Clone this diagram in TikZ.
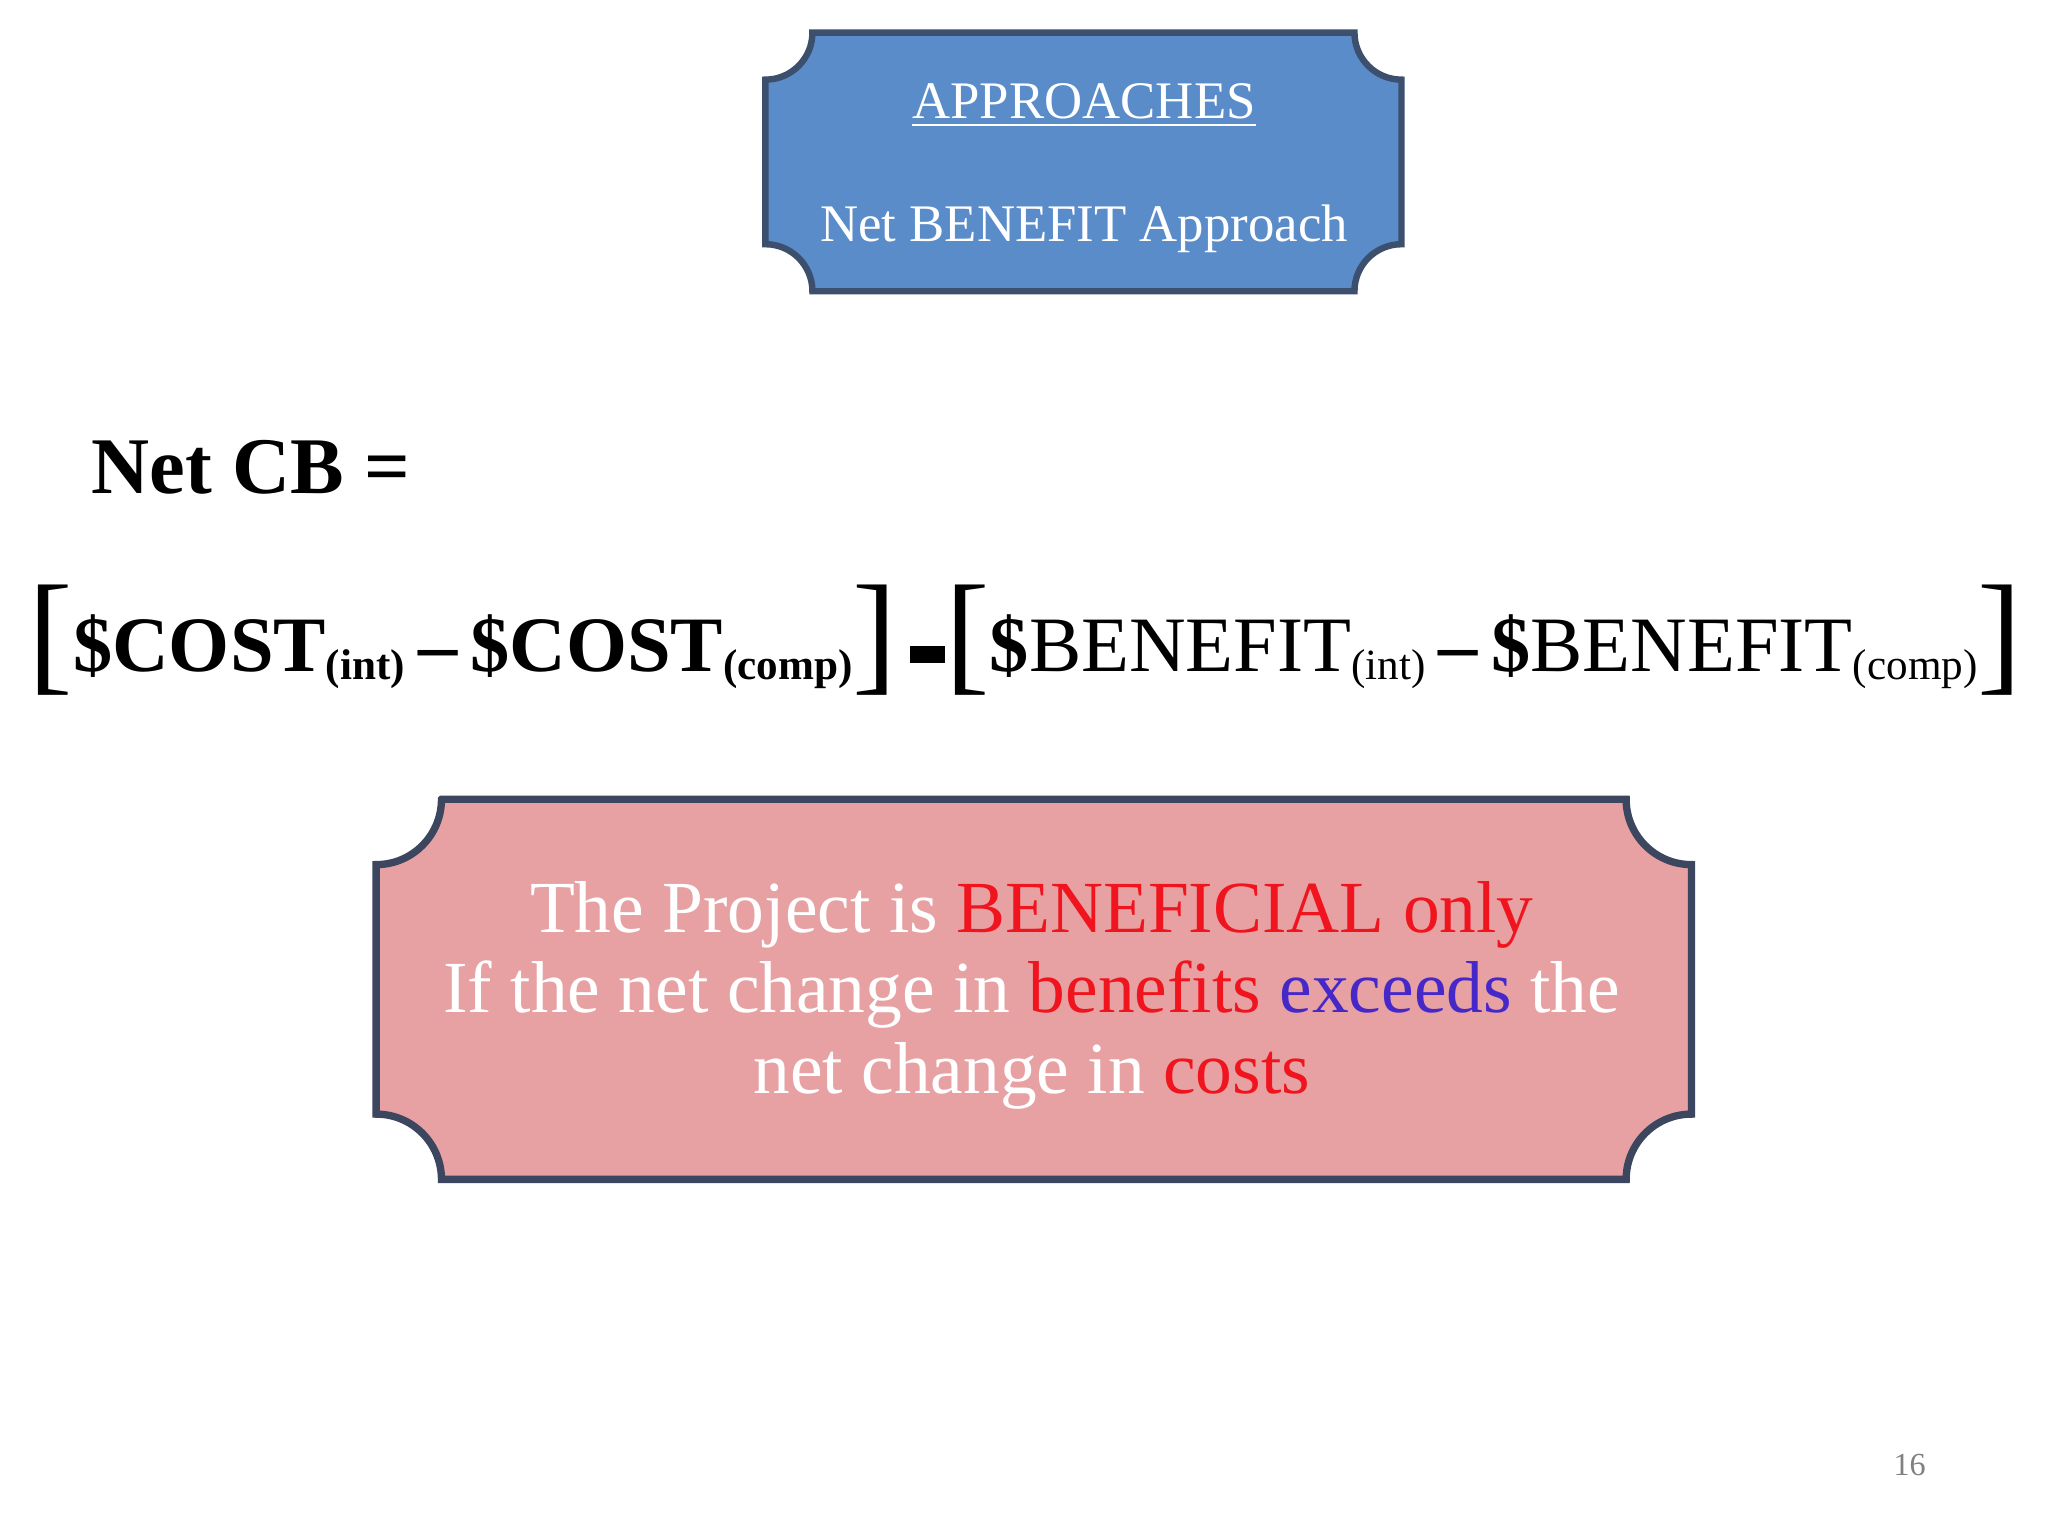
\documentclass[tikz,border=0pt]{standalone}
\usepackage{fontspec}
\setmainfont{Liberation Serif}
\usepackage{graphicx}
\definecolor{boxblue}{RGB}{90,140,202}
\definecolor{boxblueline}{RGB}{60,80,110}
\definecolor{boxpink}{RGB}{231,161,163}
\definecolor{boxpinkline}{RGB}{60,70,95}
\definecolor{txtred}{RGB}{240,20,30}
\definecolor{txtblue}{RGB}{70,40,200}
\newcommand{\scoopbox}[6]{% x1 y1top x2 y2bot r style
  \draw[#6] (#1+#5,#2) -- (#3-#5,#2) arc[start angle=180,end angle=270,radius=#5]
    -- (#3,#4+#5) arc[start angle=90,end angle=180,radius=#5]
    -- (#1+#5,#4) arc[start angle=0,end angle=90,radius=#5]
    -- (#1,#2-#5) arc[start angle=270,end angle=360,radius=#5] -- cycle;}
\newcommand{\subsc}[1]{\raisebox{-0.2ex}{\fontsize{11pt}{11pt}\selectfont #1}}
\begin{document}
\begin{tikzpicture}[x=1cm,y=1cm]
\useasboundingbox[fill=white] (0,0) rectangle (15.68,11.76);
\tikzset{bluebox/.style={fill=boxblue,draw=boxblueline,line width=1.4pt},
 pinkbox/.style={fill=boxpink,draw=boxpinkline,line width=1.6pt}}
\scoopbox{5.86}{11.51}{10.73}{9.53}{0.36}{bluebox}
\scoopbox{2.88}{5.64}{12.95}{2.73}{0.5}{pinkbox}
\node[text=white,font=\fontsize{11.5pt}{13pt}\selectfont] (appr) at (8.30,10.95) {\underline{APPROACHES}};
\node[text=white,font=\fontsize{11.5pt}{13pt}\selectfont] (netb) at (8.30,10.01) {Net BENEFIT Approach};
\node[anchor=west,font=\bfseries\fontsize{17.5pt}{21pt}\selectfont] (netcb) at (0.58,8.18) {Net CB =};
\node (formula) at (7.85,6.86) {\resizebox{15.26cm}{!}{%
 \fontsize{20pt}{24pt}\selectfont
 \raisebox{-0.15ex}{\fontsize{34pt}{34pt}\selectfont[}\textbf{\$COST\subsc{(int)}\,–\,\$COST\subsc{(comp)}}\raisebox{-0.15ex}{\fontsize{34pt}{34pt}\selectfont]}%
 \,\textbf{\rule[0.25ex]{0.45em}{0.22em}}%
 \raisebox{-0.15ex}{\fontsize{34pt}{34pt}\selectfont[}\textbf{\$}BENEFIT\subsc{(int)}\,\textbf{–\,\$}BENEFIT\subsc{(comp)}\raisebox{-0.15ex}{\fontsize{34pt}{34pt}\selectfont]}}};
\node[text=white,align=center,font=\fontsize{16pt}{17.6pt}\selectfont] (msg) at (7.90,4.14)
 {The Project is \textcolor{txtred}{BENEFICIAL only}\\
  If the net change in \textcolor{txtred}{benefits} \textcolor{txtblue}{exceeds} the\\
  net change in \textcolor{txtred}{costs}};
\node[text=gray,font=\fontsize{7pt}{8pt}\selectfont] (page) at (14.62,0.54) {16};
\end{tikzpicture}
\end{document}
